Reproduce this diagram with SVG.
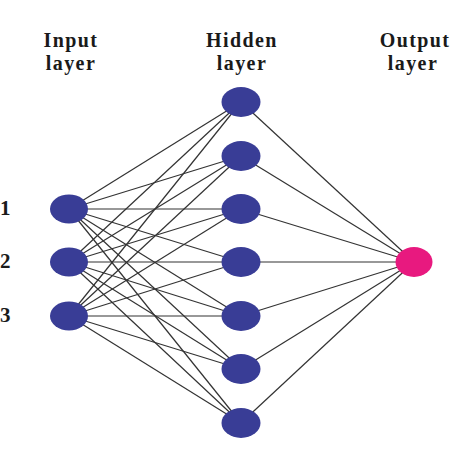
<svg xmlns="http://www.w3.org/2000/svg" width="474" height="474" viewBox="0 0 474 474">
<style>
.lbl{font-family:"Liberation Serif","Times New Roman",serif;font-weight:bold;font-size:20px;letter-spacing:1.4px;fill:#1a1a1a;text-anchor:middle}
.num{font-family:"Liberation Serif","Times New Roman",serif;font-weight:bold;font-size:21px;fill:#1a1a1a;text-anchor:start}
.n{fill:#393d96}
.o{fill:#e8197f}
#edges line{stroke:#333;stroke-width:1.2}
</style>
<rect width="474" height="474" fill="#fff"/>
<g id="labels">
<text class="lbl" x="71" y="47">Input</text>
<text class="lbl" x="71" y="69.5">layer</text>
<text class="lbl" x="242" y="47">Hidden</text>
<text class="lbl" x="242" y="69.5">layer</text>
<text class="lbl" x="415" y="47">Output</text>
<text class="lbl" x="413" y="69.5">layer</text>
<text class="num" x="0" y="215">1</text>
<text class="num" x="0" y="268">2</text>
<text class="num" x="0" y="322">3</text>
</g>
<g id="edges">
<line x1="69" y1="209" x2="241" y2="102"/><line x1="69" y1="209" x2="241" y2="156"/><line x1="69" y1="209" x2="241" y2="209"/><line x1="69" y1="209" x2="241" y2="262"/><line x1="69" y1="209" x2="241" y2="316"/><line x1="69" y1="209" x2="241" y2="369"/><line x1="69" y1="209" x2="241" y2="423"/>
<line x1="69" y1="262" x2="241" y2="102"/><line x1="69" y1="262" x2="241" y2="156"/><line x1="69" y1="262" x2="241" y2="209"/><line x1="69" y1="262" x2="241" y2="262"/><line x1="69" y1="262" x2="241" y2="316"/><line x1="69" y1="262" x2="241" y2="369"/><line x1="69" y1="262" x2="241" y2="423"/>
<line x1="69" y1="316" x2="241" y2="102"/><line x1="69" y1="316" x2="241" y2="156"/><line x1="69" y1="316" x2="241" y2="209"/><line x1="69" y1="316" x2="241" y2="262"/><line x1="69" y1="316" x2="241" y2="316"/><line x1="69" y1="316" x2="241" y2="369"/><line x1="69" y1="316" x2="241" y2="423"/>
<line x1="241" y1="102" x2="414" y2="262"/><line x1="241" y1="156" x2="414" y2="262"/><line x1="241" y1="209" x2="414" y2="262"/><line x1="241" y1="262" x2="414" y2="262"/><line x1="241" y1="316" x2="414" y2="262"/><line x1="241" y1="369" x2="414" y2="262"/><line x1="241" y1="423" x2="414" y2="262"/>
</g>
<g id="in1"><ellipse class="n" cx="69" cy="209" rx="19" ry="14.5"/></g>
<g id="in2"><ellipse class="n" cx="69" cy="262" rx="19" ry="14.5"/></g>
<g id="in3"><ellipse class="n" cx="69" cy="316" rx="19" ry="14.5"/></g>
<g id="h1"><ellipse class="n" cx="241" cy="102" rx="19.5" ry="15"/></g>
<g id="h2"><ellipse class="n" cx="241" cy="156" rx="19.5" ry="15"/></g>
<g id="h3"><ellipse class="n" cx="241" cy="209" rx="19.5" ry="15"/></g>
<g id="h4"><ellipse class="n" cx="241" cy="262" rx="19.5" ry="15"/></g>
<g id="h5"><ellipse class="n" cx="241" cy="316" rx="19.5" ry="15"/></g>
<g id="h6"><ellipse class="n" cx="241" cy="369" rx="19.5" ry="15"/></g>
<g id="h7"><ellipse class="n" cx="241" cy="423" rx="19.5" ry="15"/></g>
<g id="out"><ellipse class="o" cx="414" cy="262" rx="18.5" ry="15"/></g>
</svg>
